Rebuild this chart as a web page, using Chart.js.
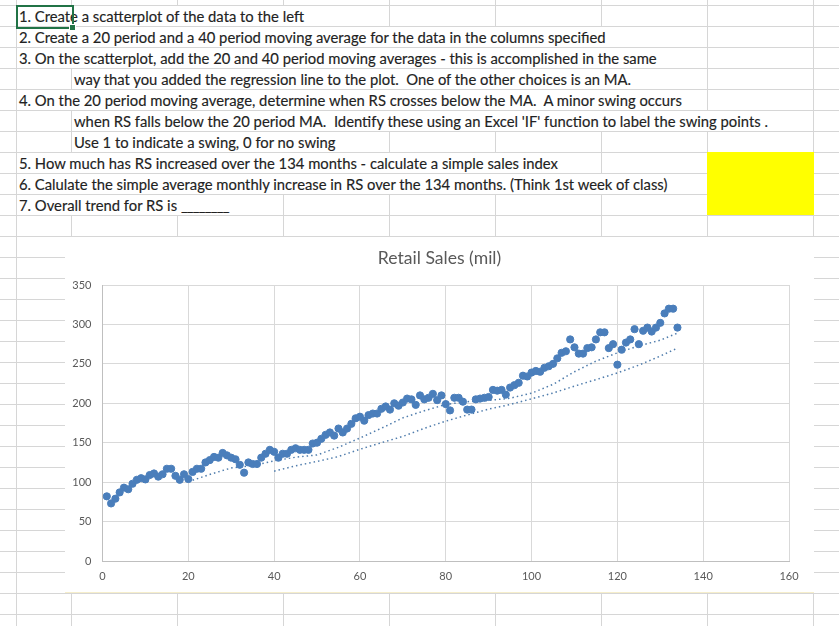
<!DOCTYPE html>
<html>
<head>
<meta charset="utf-8">
<script src="https://cdn.jsdelivr.net/npm/chart.js@4"></script>
<style>
  html, body { margin: 0; padding: 0; }
  body {
    width: 839px; height: 626px; position: relative; overflow: hidden;
    font-family: Lato, sans-serif; color: #222;
    background-color: #fff;
    background-image:
      linear-gradient(to right, #d6d6d6 1px, transparent 1px),
      repeating-linear-gradient(to right, #d6d6d6 0 1px, transparent 1px 106px),
      repeating-linear-gradient(to bottom, #d6d6d6 0 1px, transparent 1px 21px);
    background-size: 1px 100%, 100% 100%, 100% 100%;
    background-position: 16px 0, 71px 0, 0 5px;
    background-repeat: no-repeat, no-repeat, no-repeat;
  }
  .row {
    position: absolute; height: 20px; line-height: 21px; background: #fff;
    font-size: 14.8px; white-space: pre; box-sizing: border-box; padding-left: 2px;
    -webkit-text-stroke: 0.15px #222;
  }
  .risco { letter-spacing: -0.8px; }
  #sel { position: absolute; left: 16px; top: 5px; width: 54px; height: 20px; border: 2px solid #217346; }
  #handle { position: absolute; left: 69px; top: 24px; width: 5px; height: 5px; background: #217346; border: 1px solid #fff; }
  #yellow { position: absolute; left: 707px; top: 152px; width: 107px; height: 63px; background: #ffff00; }
  #box { position: absolute; left: 65px; top: 237px; width: 749px; height: 355px; background: #fff; border-bottom: 1px solid #f6eecb; }
</style>
</head>
<body>
<div id="rows"></div>
<div id="yellow"></div>
<div id="sel"></div>
<div id="handle"></div>
<div id="box"><canvas id="graf" width="749" height="355"></canvas></div>
<script>
  // instructions in the sheet: text, row number, left edge, right edge of the blank cells
  var linhas = [
    ["1. Create a scatterplot of the data to the left", 0, 17, 389],
    ["2. Create a 20 period and a 40 period moving average for the data in the columns specified", 1, 17, 707],
    ["3. On the scatterplot, add the 20 and 40 period moving averages - this is accomplished in the same", 2, 17, 707],
    ["way that you added the regression line to the plot.  One of the other choices is an MA.", 3, 72, 707],
    ["4. On the 20 period moving average, determine when RS crosses below the MA.  A minor swing occurs", 4, 17, 707],
    ["when RS falls below the 20 period MA.  Identify these using an Excel 'IF' function to label the swing points .", 5, 72, 813],
    ["Use 1 to indicate a swing, 0 for no swing", 6, 72, 389],
    ["5. How much has RS increased over the 134 months - calculate a simple sales index", 7, 17, 601],
    ["6. Calulate the simple average monthly increase in RS over the 134 months. (Think 1st week of class)", 8, 17, 707],
    ["7. Overall trend for RS is <span class='risco'>________</span>", 9, 17, 283]
  ];

  var vendas = [
    82, 73, 79, 87, 93, 91, 98, 103, 105, 103.5,
    109, 111, 107, 110, 117, 117, 108, 103, 110, 104,
    113, 117, 117, 125, 128, 132, 131, 137, 134, 131,
    129, 122, 112, 125, 123, 123, 131, 136, 141, 138.5,
    131, 136, 136, 141, 143, 141, 141, 141, 149, 150,
    155, 160, 163, 159, 168, 163, 168, 174, 181, 183,
    178, 185, 187, 187, 193, 196, 192, 200, 197, 201,
    206, 205, 198, 210, 205, 207, 212, 204, 210, 199,
    191, 207, 207, 202, 192, 192, 205, 206, 207, 208,
    217, 216, 217, 211, 220, 223, 226, 235, 234, 239,
    241, 240, 245, 247, 250, 257, 264, 266, 281, 271,
    263, 263, 270, 271, 281, 290, 290, 270, 275, 249,
    268, 277, 281, 294, 275, 292, 296, 291, 296, 302,
    314, 320, 320, 296
  ];

  var periodos_20 = [20, 25, 30, 35, 40, 45, 50, 55, 60, 65, 70, 75, 80, 85, 90, 95, 100, 105, 110, 115, 120, 125, 130, 134];
  var media_20 = [100.5, 109.8, 118, 120.9, 127, 131.6, 134.5, 144.2, 156, 168.3, 181.5, 190.5, 198.6, 202, 203.6, 206.5, 212.8, 224, 240, 253.4, 264, 272.8, 280, 289];

  var periodos_40 = [40, 45, 50, 55, 60, 65, 70, 75, 80, 85, 90, 95, 100, 105, 110, 115, 120, 125, 130, 134];
  var media_40 = [113.9, 120.7, 126.3, 132.5, 141.7, 150, 158, 168.3, 177.4, 185.2, 192.6, 198.5, 205.7, 213, 221.8, 230, 238.5, 248.4, 259.9, 270];

  var titulo = "Retail Sales (mil)";

  var rows = document.getElementById("rows");
  for (var i in linhas) {
    var d = document.createElement("div");
    d.className = "row";
    d.innerHTML = linhas[i][0];
    d.style.top = (6 + 21 * linhas[i][1]) + "px";
    d.style.left = linhas[i][2] + "px";
    d.style.width = (linhas[i][3] - linhas[i][2]) + "px";
    rows.appendChild(d);
  }

  function pontos(xs, ys) {
    return ys.map(function (v, i) { return { x: xs ? xs[i] : i + 1, y: v }; });
  }

  var cor_ponto = "#4a7ebb";
  var cor_media = "#4f7cac";
  var cor_grade = "#d9d9d9";
  var cor_texto = "#595959";

  var graf = new Chart(document.getElementById("graf"), {
    type: "scatter",
    data: {
      datasets: [{
        label: "RS",
        data: pontos(null, vendas),
        backgroundColor: cor_ponto,
        borderColor: cor_ponto,
        pointRadius: 3.6
      }, {
        label: "20 per. Mov. Avg.",
        data: pontos(periodos_20, media_20),
        showLine: true,
        pointRadius: 0,
        borderColor: cor_media,
        borderWidth: 1.5,
        borderDash: [1.5, 3]
      }, {
        label: "40 per. Mov. Avg.",
        data: pontos(periodos_40, media_40),
        showLine: true,
        pointRadius: 0,
        borderColor: cor_media,
        borderWidth: 1.5,
        borderDash: [1.5, 3]
      }]
    },
    options: {
      responsive: false,
      animation: false,
      plugins: {
        legend: { display: false },
        tooltip: { enabled: false },
        title: {
          display: true,
          text: titulo,
          color: cor_texto,
          font: { family: "Lato", size: 17.6, weight: "normal" },
          padding: { top: 10.5, bottom: 16.4 }
        }
      },
      scales: {
        x: {
          type: "linear",
          min: 0,
          max: 160,
          afterFit: function (s) { s.height = 31; },
          grid: { color: cor_grade, drawTicks: false },
          border: { color: "#bfbfbf" },
          ticks: { stepSize: 20, padding: 9, color: cor_texto, maxRotation: 0, font: { family: "Lato", size: 11 } }
        },
        y: {
          min: 0,
          max: 350,
          afterFit: function (s) { s.width = 37.5; },
          grid: { color: cor_grade, drawTicks: false },
          border: { color: "#bfbfbf" },
          ticks: { stepSize: 50, padding: 11, color: cor_texto, font: { family: "Lato", size: 11 } }
        },
        // empty axis, keeps the white margin on the right so the title stays centred
        margem: {
          position: "right",
          afterFit: function (s) { s.width = 25; },
          grid: { display: false },
          border: { display: false },
          ticks: { display: false }
        }
      }
    }
  });
</script>
</body>
</html>
